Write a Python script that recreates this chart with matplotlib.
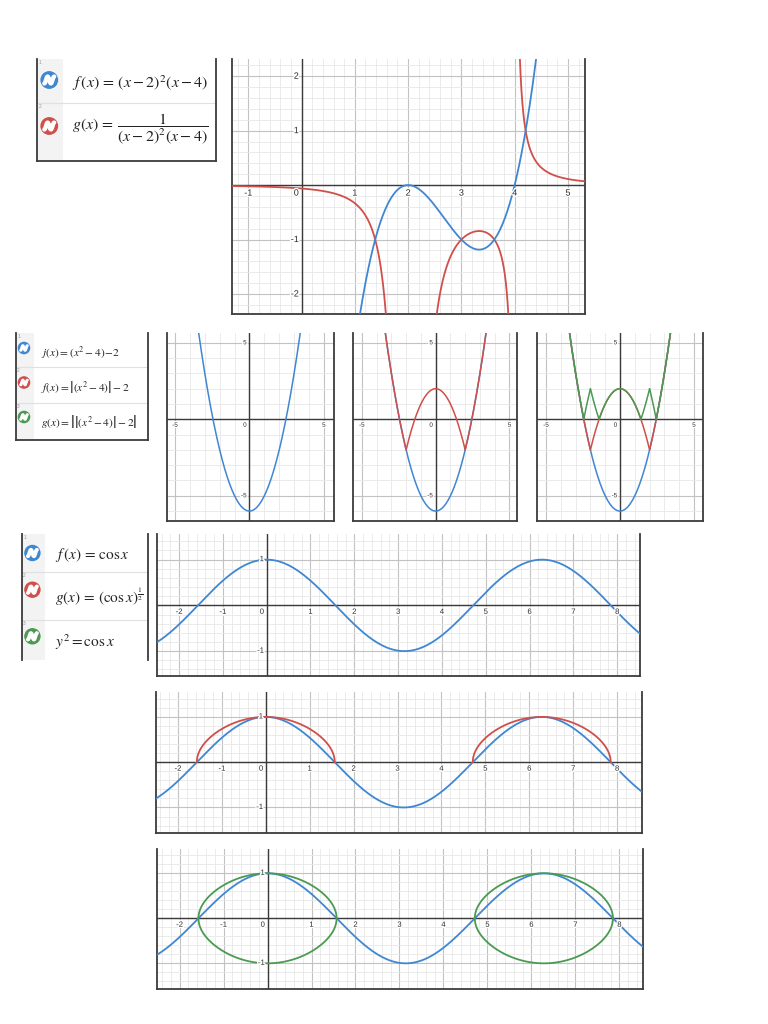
import numpy as np
import matplotlib
matplotlib.use('Agg')
import matplotlib.pyplot as plt
from matplotlib import patheffects as pe
from matplotlib.patches import Rectangle, Circle
from matplotlib.ticker import MultipleLocator

plt.rcParams['mathtext.fontset'] = 'stix'
plt.rcParams['font.family'] = ['Liberation Sans', 'DejaVu Sans']

BLUE = '#3f87d2'
RED = '#d04f4a'
GREEN = '#4a9a52'

# --- data ---
# panel 1: f(x) = (x - a)^2 (x - b), g = 1/f
p1_roots = [2, 4]
p1_xlim = [-1.30, 5.32]
p1_ylim = [-2.36, 2.31]
p1_xlabels = [-1, 1, 2, 3, 4, 5]
p1_ylabels = [2, 1, -1, -2]

# panel 2: x^2 - c, then shifts of -d
p2_c = 4
p2_d = 2
p2_xlims = [[-5.54, 5.68], [-5.58, 5.53], [-5.59, 5.59]]
p2_ylim = [-6.63, 5.64]
p2_xlabels = [-5, 5]
p2_ylabels = [5, -5]

# panels 3-5: cos x, sqrt(cos x), y^2 = cos x
p3_xlabels = [-2, -1, 1, 2, 3, 4, 5, 6, 7, 8]
p3_ylabels = [1, -1]
p3_xlims = [[-2.51, 8.52], [-2.50, 8.56], [-2.52, 8.53]]
p3_ylims = [[-1.55, 1.56], [-1.57, 1.55], [-1.57, 1.54]]

legend1 = [r'$f\,(x) \,=\, (x-2)^2(x-4)$',
           r'$g(x) \,=\, \dfrac{1}{(x-2)^2(x-4)}$']
legend2 = [r'$j(x) = \left(x^2-4\right)\!-\!2$',
           r'$f(x) = \left|\left(x^2-4\right)\right|-2$',
           r'$g(x) = \left|\left|\left(x^2-4\right)\right|-2\right|$']
legend3 = [r'$f\,(x) \,=\, \cos x$', r'$g(x) \,=\, \left(\cos x\right)^{\frac{1}{2}}$',
           r'$y^2 = \cos x$']

W, H = 768, 1024
fig = plt.figure(figsize=(W / 100, H / 100), dpi=100)
fig.patch.set_facecolor('white')

halo = [pe.withStroke(linewidth=2, foreground='white')]


def px_axes(x0, y0, x1, y1):
    return fig.add_axes([x0 / W, 1 - y1 / H, (x1 - x0) / W, (y1 - y0) / H])


def graph(rect, xlim, ylim, major, minor, xlabels, ylabels, fs):
    ax = px_axes(*rect)
    ax.set_xlim(xlim)
    ax.set_ylim(ylim)
    for a in (ax.xaxis, ax.yaxis):
        a.set_major_locator(MultipleLocator(major))
        a.set_minor_locator(MultipleLocator(minor))
    ax.grid(which='minor', color='#e8e8e8', lw=0.6)
    ax.grid(which='major', color='#c2c2c2', lw=0.8)
    ax.set_axisbelow(True)
    ax.tick_params(which='both', length=0, labelbottom=False, labelleft=False)
    ax.axhline(0, color='#3a3a3a', lw=1.0, zorder=1.5)
    ax.axvline(0, color='#3a3a3a', lw=1.0, zorder=1.5)
    ax.spines['top'].set_visible(False)
    for s in ('left', 'right', 'bottom'):
        ax.spines[s].set_color('#3c3c3c')
        ax.spines[s].set_linewidth(1.3)
    for v in xlabels:
        ax.annotate(str(v), (v, 0), xytext=(0, -2.5), textcoords='offset points',
                    ha='center', va='top', fontsize=fs, color='#2a2a2a',
                    path_effects=halo, zorder=5)
    for v in ylabels:
        ax.annotate(str(v), (0, v), xytext=(-2, 0), textcoords='offset points',
                    ha='right', va='center', fontsize=fs, color='#2a2a2a',
                    path_effects=halo, zorder=5)
    ax.annotate('0', (0, 0), xytext=(-2, -2.5), textcoords='offset points',
                ha='right', va='top', fontsize=fs, color='#2a2a2a',
                path_effects=halo, zorder=5)
    return ax


def icon(ax, cx, cy, r, color):
    # desmos style round badge with a white wave
    ax.add_patch(Circle((cx, cy), r, color=color, zorder=3))
    L = 0.6 * r
    t = np.linspace(-L, L, 60)
    ax.plot(cx + t, cy + 0.42 * r * np.sin(1.5 * np.pi * t / L), color='white',
            lw=r * 0.38, solid_capstyle='round', zorder=4)


def legend_box(rect, colw, seps, rows, texts, colors, fs, icon_r, text_x, bottom=True):
    x0, y0, x1, y1 = rect
    ax = px_axes(*rect)
    w, h = x1 - x0, y1 - y0
    ax.set_xlim(0, w)
    ax.set_ylim(h, 0)
    ax.axis('off')
    ax.add_patch(Rectangle((0, 0), colw, h, color='#f3f3f3', lw=0))
    for s in seps:
        ax.plot([0, w], [s, s], color='#e0e0e0', lw=0.8)
    ax.plot([0, 0], [0, h], color='#3c3c3c', lw=1.3, clip_on=False)
    ax.plot([w, w], [0, h], color='#3c3c3c', lw=1.3, clip_on=False)
    if bottom:
        ax.plot([0, w], [h, h], color='#3c3c3c', lw=1.3, clip_on=False)
    tops = [0] + list(seps)
    for i, (ic, tc) in enumerate(rows):
        ax.text(1.5, tops[i] + 1, str(i + 1), fontsize=3.5, color='#999999',
                ha='left', va='top')
        icon(ax, colw * 0.46, ic, icon_r, colors[i])
        ax.text(text_x, tc, texts[i], fontsize=fs, color='#222222',
                ha='left', va='center')
    return ax


# ---------- panel 1 ----------
legend_box((37.3, 59, 215.7, 161), 26, [43.7], [(21, 24), (67, 70)],
           legend1, [BLUE, RED], 11.5, 8.2, 34.4)

ax1 = graph((232.3, 59.3, 585, 313.6), p1_xlim, p1_ylim, 1, 0.2,
            p1_xlabels, p1_ylabels, 6.5)
x = np.linspace(p1_xlim[0], p1_xlim[1], 8001)
f1 = (x - p1_roots[0]) ** 2 * (x - p1_roots[1])
with np.errstate(divide='ignore'):
    g1 = 1.0 / f1
g1[np.abs(g1) > 20] = np.nan
ax1.plot(x, g1, color=RED, lw=1.3, zorder=3)
ax1.plot(x, f1, color=BLUE, lw=1.3, zorder=3)

# ---------- panel 2 ----------
legend_box((15.7, 333, 147.7, 440), 18, [33.7, 69.7],
           [(15, 20.5), (49.5, 54), (84, 89)],
           legend2, [BLUE, RED, GREEN], 8.2, 5.6, 25)

kinks = [-np.sqrt(6), -2, -np.sqrt(2), np.sqrt(2), 2, np.sqrt(6)]
x2 = np.sort(np.concatenate([np.linspace(-6, 6, 4001), kinks]))
j2 = (x2 ** 2 - p2_c) - p2_d
f2 = np.abs(x2 ** 2 - p2_c) - p2_d
g2 = np.abs(np.abs(x2 ** 2 - p2_c) - p2_d)

rects2 = [(167, 333, 334, 520.7), (353.3, 333, 517.3, 520.7), (537.3, 333, 702.7, 520.7)]
for k in range(3):
    ax = graph(rects2[k], p2_xlims[k], p2_ylim, 5, 1, p2_xlabels, p2_ylabels, 4.5)
    ax.plot(x2, j2, color=BLUE, lw=1.1, zorder=3)
    if k >= 1:
        ax.plot(x2, f2, color=RED, lw=1.1, zorder=3)
    if k >= 2:
        ax.plot(x2, g2, color=GREEN, lw=1.1, zorder=3)

# ---------- panels 3-5 ----------
legend_box((21.7, 534, 148.3, 660), 23.3, [38.3, 86.3],
           [(19, 20.5), (55.7, 63), (102.3, 108)],
           legend3, [BLUE, RED, GREEN], 11, 7.5, 33.3, bottom=False)

zeros = [-np.pi / 2, np.pi / 2, 3 * np.pi / 2, 5 * np.pi / 2]
x3 = np.sort(np.concatenate([np.linspace(-3, 9, 12001), zeros]))
c3 = np.cos(x3)
root = np.where(c3 > -1e-12, np.sqrt(np.clip(c3, 0, None)), np.nan)

rects3 = [(156.7, 534, 640, 676.3), (156, 692, 641.7, 833.3), (156.7, 849, 642.7, 989)]
for k in range(3):
    ax = graph(rects3[k], p3_xlims[k], p3_ylims[k], 1, 0.2,
               p3_xlabels, p3_ylabels, 5.5)
    ax.plot(x3, c3, color=BLUE, lw=1.3, zorder=3)
    if k == 1:
        ax.plot(x3, root, color=RED, lw=1.3, zorder=3)
    if k == 2:
        ax.plot(x3, root, color=GREEN, lw=1.3, zorder=3)
        ax.plot(x3, -root, color=GREEN, lw=1.3, zorder=3)

fig.savefig('out.png', dpi=100, facecolor='white')
